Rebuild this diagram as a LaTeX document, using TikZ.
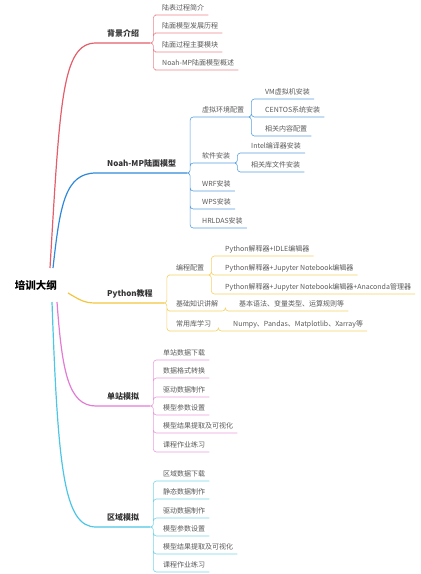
\documentclass[tikz,border=0pt]{standalone}
\usepackage{fontspec}
\setmainfont{Noto Sans CJK SC}
\usepackage{xcolor}
\usepackage{tikz}
\usetikzlibrary{positioning}
\definecolor{bred}{HTML}{E35D6A}
\definecolor{bblue}{HTML}{2F88DA}
\definecolor{byellow}{HTML}{F2C53D}
\definecolor{bpink}{HTML}{E27BD4}
\definecolor{bcyan}{HTML}{4CC6E4}
\tikzset{
    root/.style={font=\fontsize{10.5}{12}\selectfont\bfseries, inner sep=0pt},
    topic/.style={font=\fontsize{8}{9}\selectfont\bfseries, text=black!80, anchor=south west, inner xsep=11pt, inner ysep=4.5pt, text height=7pt, text depth=2pt},
    leaf/.style={font=\fontsize{7}{8}\selectfont, text=black!65, anchor=south west, inner xsep=4pt, inner ysep=2.5pt, text height=6pt, text depth=1.5pt},
    trunk/.style={line width=1.2pt},
    fork/.style={line width=0.6pt, rounded corners=3pt, to path={-- ++(3,0) |- (\tikztotarget) \tikztonodes}}
}
\begin{document}
\begin{tikzpicture}[x=1pt, y=-1pt]
    \useasboundingbox (0,0) rectangle (421,574);
    \node (root) [root] at (36,285) {培训大纲};
    \coordinate (r1) at (50,268);
    \coordinate (r2) at (53,268);
    \coordinate (r3) at (68,293);
    \coordinate (r4) at (57,302);
    \coordinate (r5) at (52,302);

    \node (bg) [topic] at (96,43) {背景介绍};
    \node (bg1) [leaf] at (158,15) {陆表过程简介};
    \node (bg2) [leaf] at (158,33) {陆面模型发展历程};
    \node (bg3) [leaf] at (158,52) {陆面过程主要模块};
    \node (bg4) [leaf] at (158,70) {Noah-MP陆面模型概述};

    \node (nm) [topic] at (96,173) {Noah-MP陆面模型};
    \node (nm1) [leaf] at (198,117) {虚拟环境配置};
    \node (nm2) [leaf] at (198,163) {软件安装};
    \node (nm3) [leaf] at (198,191) {WRF安装};
    \node (nm4) [leaf] at (198,209) {WPS安装};
    \node (nm5) [leaf] at (198,228) {HRLDAS安装};
    \node (vm1) [leaf] at (261,99) {VM虚拟机安装};
    \node (vm2) [leaf] at (261,117) {CENTOS系统安装};
    \node (vm3) [leaf] at (261,136) {相关内容配置};
    \node (sw1) [leaf] at (247,153) {Intel编译器安装};
    \node (sw2) [leaf] at (247,172) {相关库文件安装};

    \node (py) [topic] at (96,303) {Python教程};
    \node (py1) [leaf] at (172,275) {编程配置};
    \node (py2) [leaf] at (172,311) {基础知识讲解};
    \node (py3) [leaf] at (172,331) {常用库学习};
    \node (pc1) [leaf] at (221,256) {Python解释器+IDLE编辑器};
    \node (pc2) [leaf] at (221,275) {Python解释器+Jupyter Notebook编辑器};
    \node (pc3) [leaf] at (221,294) {Python解释器+Jupyter Notebook编辑器+Anaconda管理器};
    \node (bs1) [leaf] at (235,311) {基本语法、变量类型、运算规则等};
    \node (lib1) [leaf] at (229,331) {Numpy、Pandas、Matplotlib、Xarray等};

    \node (dz) [topic] at (96,406) {单站模拟};
    \node (dz1) [leaf] at (159,360) {单站数据下载};
    \node (dz2) [leaf] at (159,378) {数据格式转换};
    \node (dz3) [leaf] at (159,397) {驱动数据制作};
    \node (dz4) [leaf] at (159,415) {模型参数设置};
    \node (dz5) [leaf] at (159,433) {模型结果提取及可视化};
    \node (dz6) [leaf] at (159,452) {课程作业练习};

    \node (qy) [topic] at (96,527) {区域模拟};
    \node (qy1) [leaf] at (159,481) {区域数据下载};
    \node (qy2) [leaf] at (159,499) {静态数据制作};
    \node (qy3) [leaf] at (159,518) {驱动数据制作};
    \node (qy4) [leaf] at (159,536) {模型参数设置};
    \node (qy5) [leaf] at (159,554) {模型结果提取及可视化};
    \node (qy6) [leaf] at (159,572) {课程作业练习};

    \draw [trunk, bred] (r1) .. controls (60,100) and (62,43) .. (bg.south west) -- (bg.south east);
    \draw [trunk, bblue] (r2) .. controls (60,205) and (65,173) .. (nm.south west) -- (nm.south east);
    \draw [trunk, byellow] (r3) .. controls (80,300) and (84,303) .. (py.south west) -- (py.south east);
    \draw [trunk, bpink] (r4) .. controls (62,370) and (68,406) .. (dz.south west) -- (dz.south east);
    \draw [trunk, bcyan] (r5) .. controls (58,470) and (64,527) .. (qy.south west) -- (qy.south east);

    \draw [fork, bred!75] (bg.south east) to (bg1.south west) -- (bg1.south east)
        (bg.south east) to (bg2.south west) -- (bg2.south east)
        (bg.south east) to (bg3.south west) -- (bg3.south east)
        (bg.south east) to (bg4.south west) -- (bg4.south east);
    \draw [fork, bblue!80] (nm.south east) to (nm1.south west) -- (nm1.south east)
        (nm.south east) to (nm2.south west) -- (nm2.south east)
        (nm.south east) to (nm3.south west) -- (nm3.south east)
        (nm.south east) to (nm4.south west) -- (nm4.south east)
        (nm.south east) to (nm5.south west) -- (nm5.south east);
    \draw [fork, bblue!80] (nm1.south east) to (vm1.south west) -- (vm1.south east)
        (nm1.south east) to (vm2.south west) -- (vm2.south east)
        (nm1.south east) to (vm3.south west) -- (vm3.south east);
    \draw [fork, bblue!80] (nm2.south east) to (sw1.south west) -- (sw1.south east)
        (nm2.south east) to (sw2.south west) -- (sw2.south east);
    \draw [fork, byellow!80] (py.south east) to (py1.south west) -- (py1.south east)
        (py.south east) to (py2.south west) -- (py2.south east)
        (py.south east) to (py3.south west) -- (py3.south east);
    \draw [fork, byellow!80] (py1.south east) to (pc1.south west) -- (pc1.south east)
        (py1.south east) to (pc2.south west) -- (pc2.south east)
        (py1.south east) to (pc3.south west) -- (pc3.south east);
    \draw [fork, byellow!80] (py2.south east) to (bs1.south west) -- (bs1.south east);
    \draw [fork, byellow!80] (py3.south east) to (lib1.south west) -- (lib1.south east);
    \draw [fork, bpink!75] (dz.south east) to (dz1.south west) -- (dz1.south east)
        (dz.south east) to (dz2.south west) -- (dz2.south east)
        (dz.south east) to (dz3.south west) -- (dz3.south east)
        (dz.south east) to (dz4.south west) -- (dz4.south east)
        (dz.south east) to (dz5.south west) -- (dz5.south east)
        (dz.south east) to (dz6.south west) -- (dz6.south east);
    \draw [fork, bcyan!75] (qy.south east) to (qy1.south west) -- (qy1.south east)
        (qy.south east) to (qy2.south west) -- (qy2.south east)
        (qy.south east) to (qy3.south west) -- (qy3.south east)
        (qy.south east) to (qy4.south west) -- (qy4.south east)
        (qy.south east) to (qy5.south west) -- (qy5.south east)
        (qy.south east) to (qy6.south west) -- (qy6.south east);
\end{tikzpicture}
\end{document}
